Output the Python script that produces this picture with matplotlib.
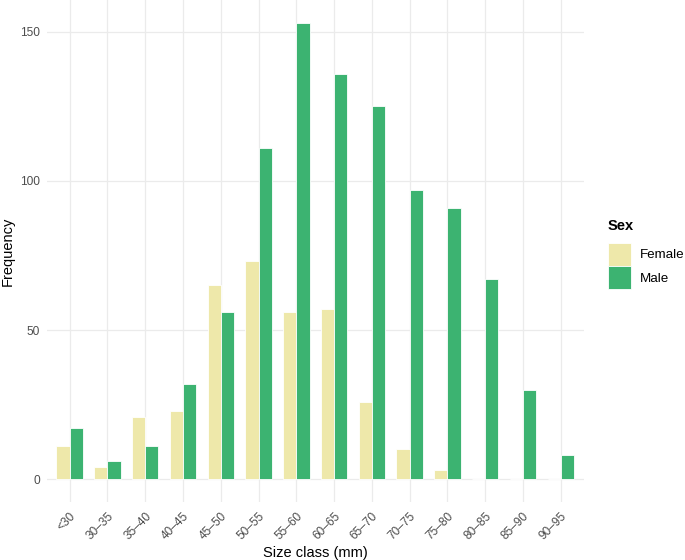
import matplotlib
matplotlib.use("Agg")
import matplotlib.pyplot as plt
from matplotlib.patches import Patch
import numpy as np

plt.rcParams['font.family'] = ['Liberation Sans', 'DejaVu Sans']

size_classes = ["<30", "30–35", "35–40", "40–45", "45–50", "50–55", "55–60",
                "60–65", "65–70", "70–75", "75–80", "80–85", "85–90", "90–95"]
female = [11, 4, 21, 23, 65, 73, 56, 57, 26, 10, 3, 0, 0, 0]
male = [17, 6, 11, 32, 56, 111, 153, 136, 125, 97, 91, 67, 30, 8]

female_color = "#EEE8AA"
male_color = "#3CB371"

fig = plt.figure(figsize=(6.85, 5.6), dpi=100)
ax = fig.add_axes([47/685, (560-502)/560, (583.5-47)/685, 502/560])

x = np.arange(len(size_classes))
w = 0.35
ax.bar(x - w/2, female, width=w, color=female_color, edgecolor="white", linewidth=0.6, zorder=3)
ax.bar(x + w/2, male, width=w, color=male_color, edgecolor="white", linewidth=0.6, zorder=3)

ax.set_xlim(-0.6, len(size_classes) - 1 + 0.6)
ymax = max(max(female), max(male))
ax.set_ylim(-0.05*ymax, 1.05*ymax)

ax.set_xticks(x)
ax.set_xticklabels(size_classes, rotation=45, ha="right", rotation_mode="anchor")
ax.set_yticks([0, 50, 100, 150])

ax.grid(True, which="major", color="#EBEBEB", linewidth=0.9, zorder=0)
for s in ax.spines.values():
    s.set_visible(False)
ax.tick_params(axis="both", which="both", length=0, labelsize=8.6, labelcolor="#4D4D4D")
ax.tick_params(axis="x", pad=6)
ax.tick_params(axis="y", pad=5)

ax.set_xlabel("Size class (mm)", fontsize=10.5, labelpad=3)
ax.set_ylabel("Frequency", fontsize=10.5, labelpad=4)

handles = [Patch(facecolor=female_color, edgecolor="white", linewidth=0.6, label="Female"),
           Patch(facecolor=male_color, edgecolor="white", linewidth=0.6, label="Male")]
leg = fig.legend(handles=handles, title="Sex", loc="center left",
                 bbox_to_anchor=(608/685, 1 - 254/560), frameon=False,
                 fontsize=9.6, title_fontsize=10.5, handlelength=1.72, handleheight=2.3,
                 labelspacing=0.0, handletextpad=0.7, borderaxespad=0, borderpad=0)
leg.get_title().set_fontweight("bold")
leg._legend_box.align = "left"
leg._legend_box.sep = 7

fig.savefig("out.png", dpi=100)
